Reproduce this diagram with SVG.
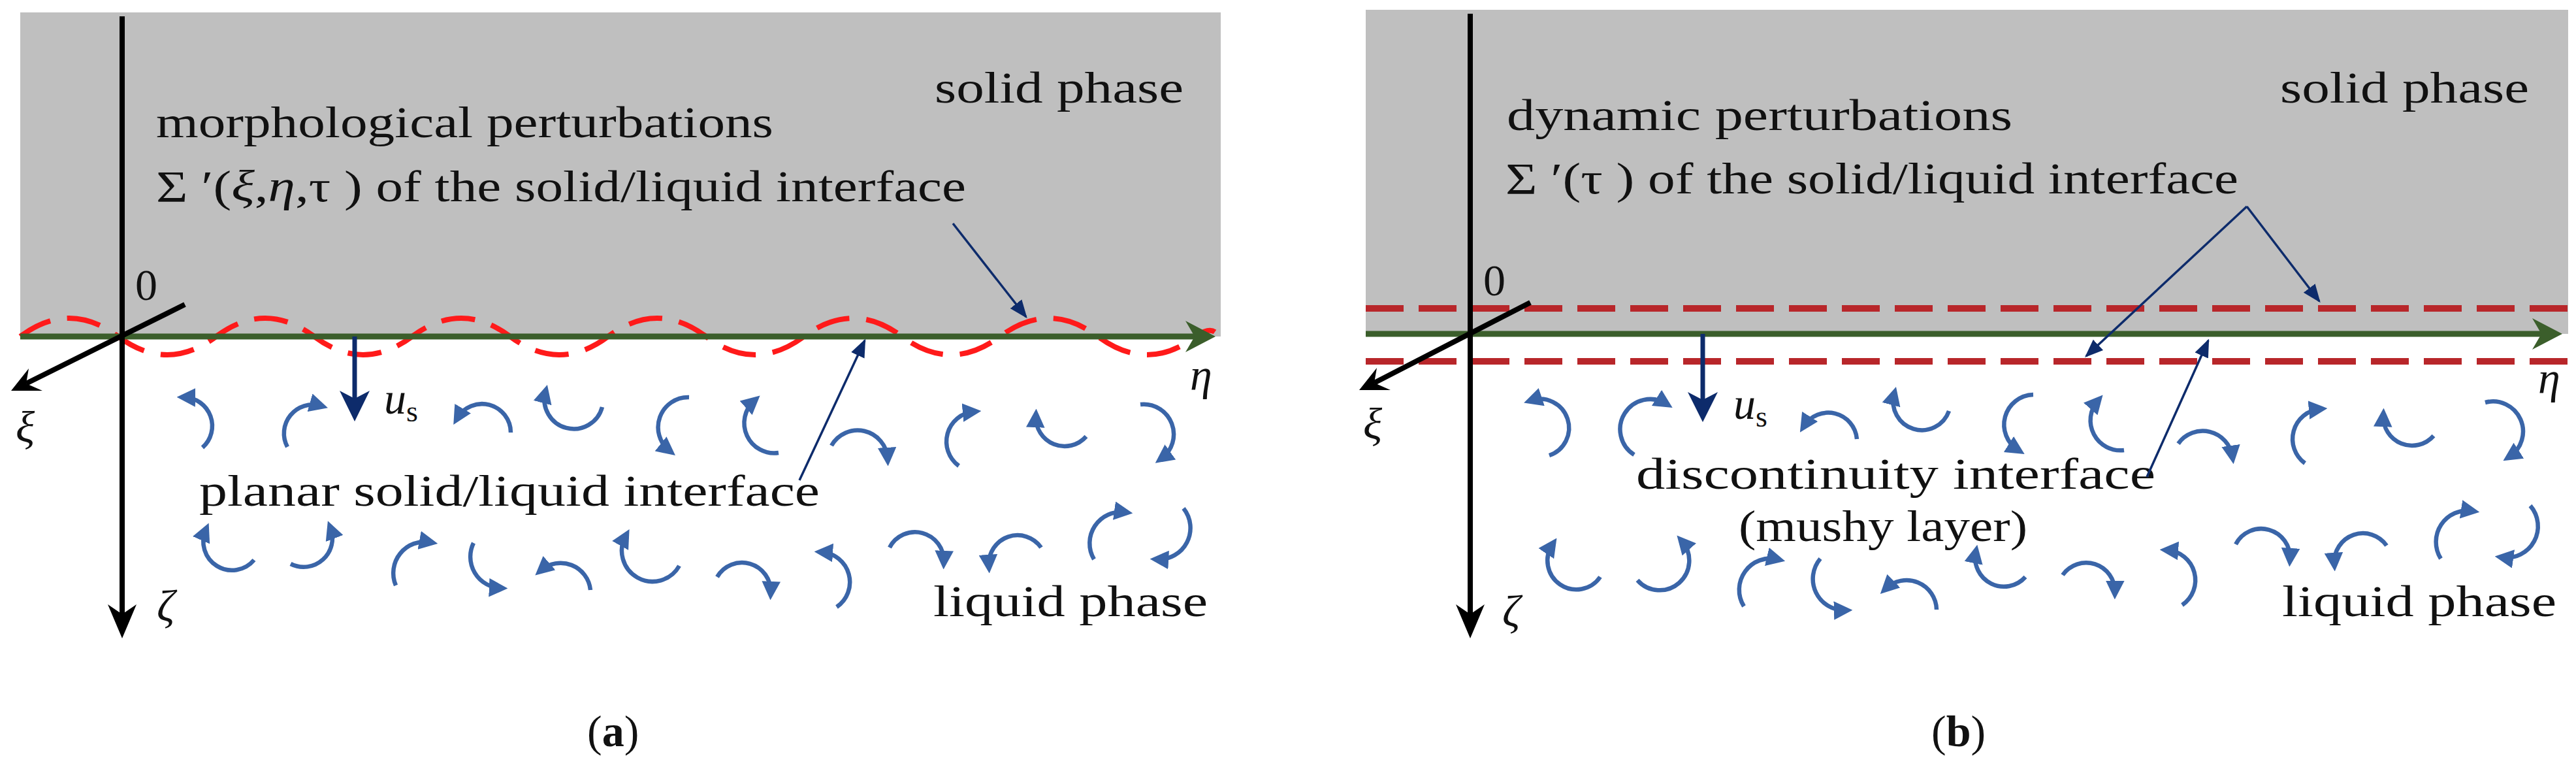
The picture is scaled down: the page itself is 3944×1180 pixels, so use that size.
<svg xmlns="http://www.w3.org/2000/svg" width="3944" height="1180" viewBox="0 0 3944 1180">
<style>
text{font-family:"Liberation Serif","DejaVu Serif",serif;fill:#111}
.t{font-size:68px}
.it{font-style:italic}
.vx{fill:none;stroke:#3a65a8;stroke-width:6.5;marker-end:url(#vh)}
.pt{fill:none;stroke:#0d2b6b;stroke-width:3.5;marker-end:url(#nh)}
.ax{stroke:#000;stroke-width:8;fill:none}
.red{fill:none;stroke:#ff1a1a;stroke-width:8;stroke-dasharray:52 26}
.redb{fill:none;stroke:#b8262a;stroke-width:10;stroke-dasharray:58 23}
</style>
<defs>
<marker id="vh" viewBox="0 0 10 10" refX="6" refY="5" markerWidth="4.4" markerHeight="4.4" orient="auto" markerUnits="strokeWidth"><path d="M0,0 L10,5 L0,10 z" fill="#3a65a8"/></marker>
<marker id="nh" viewBox="0 0 10 10" refX="9" refY="5" markerWidth="8" markerHeight="8" orient="auto" markerUnits="strokeWidth"><path d="M0,1 L10,5 L0,9 z" fill="#0d2b6b"/></marker>
</defs>

<g id="panel-a">
<rect x="31" y="19" width="1838" height="496" fill="#bfbfbf"/>
<path class="red" d="M31,515 Q106,459 181,515 Q256,571 331,515 Q406,459 481,515 Q556,571 631,515 Q706,459 781,515 Q856,571 931,515 Q1006,459 1081,515 Q1156,571 1231,515 Q1306,459 1381,515 Q1456,571 1531,515 Q1606,459 1681,515 Q1756,571 1831,515 Q1850,501 1860,508"/>
<line x1="31" y1="515" x2="1835" y2="515" stroke="#3b5e2b" stroke-width="9"/>
<polygon points="1861,515 1815,491 1829,515 1815,539" fill="#3b5e2b"/>
<line class="ax" x1="187" y1="25" x2="187" y2="940"/>
<polygon points="187,977 165,925 187,940 209,925" fill="#000"/>
<line x1="283" y1="466" x2="40" y2="587" stroke="#000" stroke-width="8"/>
<polygon points="17,598 44,564 40,587 65,598" fill="#000"/>
<text class="t" x="207" y="459">0</text>
<text class="t it" x="24" y="677">ξ</text>
<text class="t it" x="240" y="950">ζ</text>
<text class="t it" x="1822" y="597">η</text>
<line x1="543" y1="515" x2="543" y2="610" stroke="#0d2b6b" stroke-width="7"/>
<polygon points="543,645 520,598 543,610 566,598" fill="#0d2b6b"/>
<text class="t it" x="588" y="633">u<tspan font-size="46" dy="12" font-style="normal">s</tspan></text>
<text class="t" x="239" y="210" textLength="945" lengthAdjust="spacingAndGlyphs">morphological perturbations</text>
<text class="t" x="239" y="308" textLength="1240" lengthAdjust="spacingAndGlyphs">Σ ′(<tspan class="it">ξ</tspan>,<tspan class="it">η</tspan>,τ ) of the solid/liquid interface</text>
<text class="t" x="1431" y="157" textLength="381" lengthAdjust="spacingAndGlyphs">solid phase</text>
<text class="t" x="305" y="774" textLength="950" lengthAdjust="spacingAndGlyphs">planar solid/liquid interface</text>
<text class="t" x="1429" y="943" textLength="420" lengthAdjust="spacingAndGlyphs">liquid phase</text>
<text class="t" x="899" y="1142">(<tspan font-weight="bold">a</tspan>)</text>
</g>

<g id="panel-b">
<rect x="2091" y="15" width="1841" height="496" fill="#bfbfbf"/>
<line class="redb" x1="2091" y1="472" x2="3932" y2="472"/>
<line class="redb" x1="2091" y1="553" x2="3932" y2="553"/>
<line x1="2091" y1="511" x2="3895" y2="511" stroke="#3b5e2b" stroke-width="9"/>
<polygon points="3923,511 3877,487 3891,511 3877,535" fill="#3b5e2b"/>
<line class="ax" x1="2251" y1="21" x2="2251" y2="940"/>
<polygon points="2251,977 2229,925 2251,940 2273,925" fill="#000"/>
<line x1="2343" y1="463" x2="2104" y2="586" stroke="#000" stroke-width="8"/>
<polygon points="2081,597 2108,563 2104,586 2129,597" fill="#000"/>
<text class="t" x="2271" y="452">0</text>
<text class="t it" x="2087" y="672">ξ</text>
<text class="t it" x="2300" y="958">ζ</text>
<text class="t it" x="3886" y="602">η</text>
<line x1="2607" y1="511" x2="2607" y2="612" stroke="#0d2b6b" stroke-width="7"/>
<polygon points="2607,646 2584,600 2607,612 2630,600" fill="#0d2b6b"/>
<text class="t it" x="2654" y="641">u<tspan font-size="46" dy="12" font-style="normal">s</tspan></text>
<text class="t" x="2307" y="199" textLength="774" lengthAdjust="spacingAndGlyphs">dynamic perturbations</text>
<text class="t" x="2305" y="296" textLength="1122" lengthAdjust="spacingAndGlyphs">Σ ′(τ ) of the solid/liquid interface</text>
<text class="t" x="3491" y="157" textLength="381" lengthAdjust="spacingAndGlyphs">solid phase</text>
<text class="t" x="2505" y="748" textLength="795" lengthAdjust="spacingAndGlyphs">discontinuity interface</text>
<text class="t" x="2662" y="828" textLength="442" lengthAdjust="spacingAndGlyphs">(mushy layer)</text>
<text class="t" x="3494" y="943" textLength="420" lengthAdjust="spacingAndGlyphs">liquid phase</text>
<text class="t" x="2957" y="1142">(<tspan font-weight="bold">b</tspan>)</text>
</g>

<g id="connectors">
<path class="pt" d="M1459,342 L1571,485"/>
<path class="pt" d="M1224,735 L1324,521"/>
<path class="pt" d="M3440,316 L3194,545"/>
<path class="pt" d="M3440,316 L3551,461"/>
<path class="pt" d="M3287,730 L3381,521"/>
</g>

<g id="vortices-a">
<path class="vx" d="M310,685 A44,44 0 0 0 282,608"/>
<path class="vx" d="M440,684 A44,44 0 0 1 491,621"/>
<path class="vx" d="M782,662 A44,44 0 0 0 700,640"/>
<path class="vx" d="M922,623 A44,44 0 0 1 835,600"/>
<path class="vx" d="M1055,608 A46,46 0 0 0 1025,690"/>
<path class="vx" d="M1192,693 A46,46 0 0 1 1155,613"/>
<path class="vx" d="M1273,682 A46,46 0 0 1 1359,702"/>
<path class="vx" d="M1468,713 A46,46 0 0 1 1491,630"/>
<path class="vx" d="M1663,668 A44,44 0 0 1 1586,637"/>
<path class="vx" d="M1746,619 A46,46 0 0 1 1778,702"/>
<path class="vx" d="M389,857 A44,44 0 0 1 315,811"/>
<path class="vx" d="M445,863 A44,44 0 0 0 506,808"/>
<path class="vx" d="M606,896 A48,48 0 0 1 659,830"/>
<path class="vx" d="M725,831 A48,48 0 0 0 766,900"/>
<path class="vx" d="M904,903 A46,46 0 0 0 828,873"/>
<path class="vx" d="M1040,866 A44,44 0 0 1 958,820"/>
<path class="vx" d="M1098,883 A44,44 0 0 1 1180,907"/>
<path class="vx" d="M1281,929 A46,46 0 0 0 1258,845"/>
<path class="vx" d="M1362,838 A44,44 0 0 1 1445,860"/>
<path class="vx" d="M1594,838 A44,44 0 0 0 1514,866"/>
<path class="vx" d="M1675,856 A48,48 0 0 1 1723,784"/>
<path class="vx" d="M1812,778 A48,48 0 0 1 1772,856"/>
</g>

<g id="vortices-b">
<path class="vx" d="M2372,697 A44,44 0 0 0 2344,613"/>
<path class="vx" d="M2502,696 A44,44 0 0 1 2551,618"/>
<path class="vx" d="M2843,672 A44,44 0 0 0 2762,652"/>
<path class="vx" d="M2984,629 A44,44 0 0 1 2900,603"/>
<path class="vx" d="M3113,604 A46,46 0 0 0 3090,689"/>
<path class="vx" d="M3252,689 A46,46 0 0 1 3212,613"/>
<path class="vx" d="M3335,679 A46,46 0 0 1 3418,699"/>
<path class="vx" d="M3529,709 A46,46 0 0 1 3552,626"/>
<path class="vx" d="M3726,667 A44,44 0 0 1 3649,636"/>
<path class="vx" d="M3805,616 A46,46 0 0 1 3842,699"/>
<path class="vx" d="M2450,883 A44,44 0 0 1 2377,833"/>
<path class="vx" d="M2507,888 A44,44 0 0 0 2575,828"/>
<path class="vx" d="M2670,928 A48,48 0 0 1 2722,856"/>
<path class="vx" d="M2787,855 A48,48 0 0 0 2825,934"/>
<path class="vx" d="M2965,933 A46,46 0 0 0 2887,901"/>
<path class="vx" d="M3101,883 A44,44 0 0 1 3025,845"/>
<path class="vx" d="M3158,880 A44,44 0 0 1 3238,906"/>
<path class="vx" d="M3341,926 A46,46 0 0 0 3318,842"/>
<path class="vx" d="M3423,833 A44,44 0 0 1 3506,856"/>
<path class="vx" d="M3654,835 A44,44 0 0 0 3574,863"/>
<path class="vx" d="M3737,855 A48,48 0 0 1 3785,782"/>
<path class="vx" d="M3874,774 A48,48 0 0 1 3831,853"/>
</g>
</svg>
